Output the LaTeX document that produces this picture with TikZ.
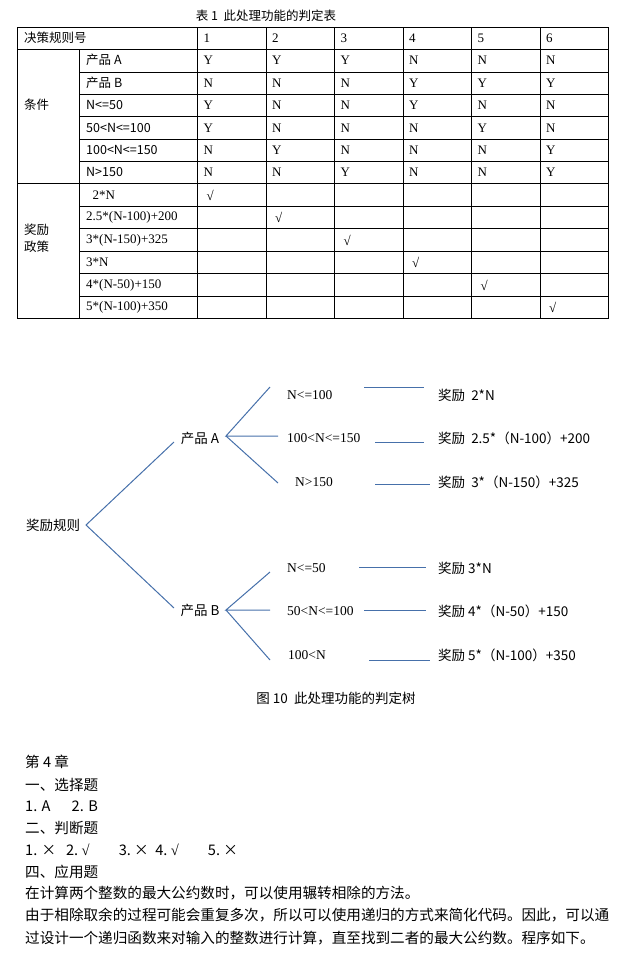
\documentclass[tikz,border=0pt]{standalone}
\usepackage{fontspec}
\setmainfont{Liberation Serif}
\newfontfamily\cjk{Noto Sans CJK SC}
\definecolor{treeblue}{RGB}{70,112,170}
\newcommand{\tk}{{\rmfamily √}}
\begin{document}
\begin{tikzpicture}[x=1pt,y=-1pt,
  cell/.style={anchor=west,inner sep=0pt,font=\fontsize{13}{13}\selectfont},
  zh/.style={anchor=west,inner sep=0pt,font=\cjk\fontsize{12.5}{12.5}\selectfont},
  tz/.style={anchor=west,inner sep=0pt,font=\cjk\fontsize{13.5}{13.5}\selectfont},
  leaf/.style={anchor=west,inner sep=0pt,font=\fontsize{13.5}{13.5}\selectfont},
  branch/.style={draw=treeblue,line width=1pt},
  body/.style={anchor=west,inner sep=0pt,font=\cjk\fontsize{14.6}{14.6}\selectfont}
  ]
\useasboundingbox (0,0) rectangle (644,956);

% table
\node[zh,anchor=center] (tcap) at (266,16) {表 1\ \ 此处理功能的判定表};
\draw[line width=0.8pt] (17,27) rectangle (608,318);
\foreach \x in {79,197,266,334,403,471,540} \draw (\x,49) -- (\x,318);
\foreach \x in {197,266,334,403,471,540} \draw (\x,27) -- (\x,49);
\foreach \y in {49,183} \draw (17,\y) -- (608,\y);
\foreach \y in {72,94,116,139,161,206,228,251,273,296} \draw (79,\y) -- (608,\y);
\node[zh] (thead) at (24,38) {决策规则号};
\foreach \n [count=\i] in {1,...,6}
  \node[cell] (num\i) at (197+68.5*\i-62,38) {\n};
\node[zh] (cond) at (24,105) {条件};
\node[zh,align=left] (award) at (24,238) {奖励\\[4pt]政策};
\foreach \lab/\y/\vals [count=\r] in {
  {产品 A}/60/{Y,Y,Y,N,N,N},
  {产品 B}/83/{N,N,N,Y,Y,Y},
  {N<=50}/105/{Y,N,N,Y,N,N},
  {50<N<=100}/128/{Y,N,N,N,Y,N},
  {100<N<=150}/150/{N,Y,N,N,N,Y},
  {N>150}/172/{N,N,Y,N,N,Y}}{
  \node[zh] (c\r) at (86,\y) {\lab};
  \foreach \v [count=\i] in \vals
    \node[cell] (v\r-\i) at (197+68.5*\i-62,\y) {\v};
}
\foreach \lab/\y [count=\r] in {
  {\ \ 2*N}/195,{2.5*(N-100)+200}/217,{3*(N-150)+325}/240,
  {3*N}/262,{4*(N-50)+150}/285,{5*(N-100)+350}/307}{
  \node[cell] (p\r) at (86,\y) {\lab};
  \node[cell] (tick\r) at (197+68.5*\r-59,\y) {√};
}

% tree
\node[tz,anchor=center] (root) at (53,525) {奖励规则};
\node[tz,anchor=center] (prodA) at (200,438) {产品 A};
\node[tz,anchor=center] (prodB) at (200,610) {产品 B};
\coordinate (r0) at (86,525);
\coordinate (a0) at (226,436);
\coordinate (b0) at (226,610);
\draw[branch] (174,442) -- (r0) -- (174,608);
\draw[branch] (270,387) -- (a0) -- (278,436);
\draw[branch] (a0) -- (278,483);
\draw[branch] (270,572) -- (b0) -- (270,610);
\draw[branch] (b0) -- (270,660);
\foreach \lab/\x/\y/\da/\db/\dy/\rew [count=\k] in {
  {N<=100}/287/395/364/424/387/{奖励\ \ 2*N},
  {100<N<=150}/287/438/375/424/442/{奖励\ \ 2.5*（N-100）+200},
  {N>150}/295/482/375/430/484/{奖励\ \ 3*（N-150）+325},
  {N<=50}/287/568/359/426/567/{奖励 3*N},
  {50<N<=100}/287/611/364/426/610/{奖励 4*（N-50）+150},
  {100<N}/288/655/369/430/660/{奖励 5*（N-100）+350}}{
  \node[leaf] (cond\k) at (\x,\y) {\lab};
  \draw[branch] (\da,\dy) -- (\db,\dy);
  \node[tz] (rew\k) at (438,\y) {\rew};
}
\node[tz,anchor=center] (fcap) at (336,698) {图 10\ \ 此处理功能的判定树};

% answers
\node[body] (l1) at (25,762) {第 4 章};
\node[body] (l2) at (25,785) {一、选择题};
\node[body] (l3) at (25,806) {1. A\quad\ \ 2. B};
\node[body] (l4) at (25,828) {二、判断题};
\node[body] (l5) at (25,850) {1. ×\ \ \ 2.\ \tk\qquad 3.\ ×\ \ 4.\ \tk\qquad 5.\ ×};
\node[body] (l6) at (25,872) {四、应用题};
\node[body] (l7) at (25,893) {在计算两个整数的最大公约数时，可以使用辗转相除的方法。};
\node[body] (l8) at (25,915) {由于相除取余的过程可能会重复多次，所以可以使用递归的方式来简化代码。因此，可以通};
\node[body] (l9) at (25,938) {过设计一个递归函数来对输入的整数进行计算，直至找到二者的最大公约数。程序如下。};
\end{tikzpicture}
\end{document}
